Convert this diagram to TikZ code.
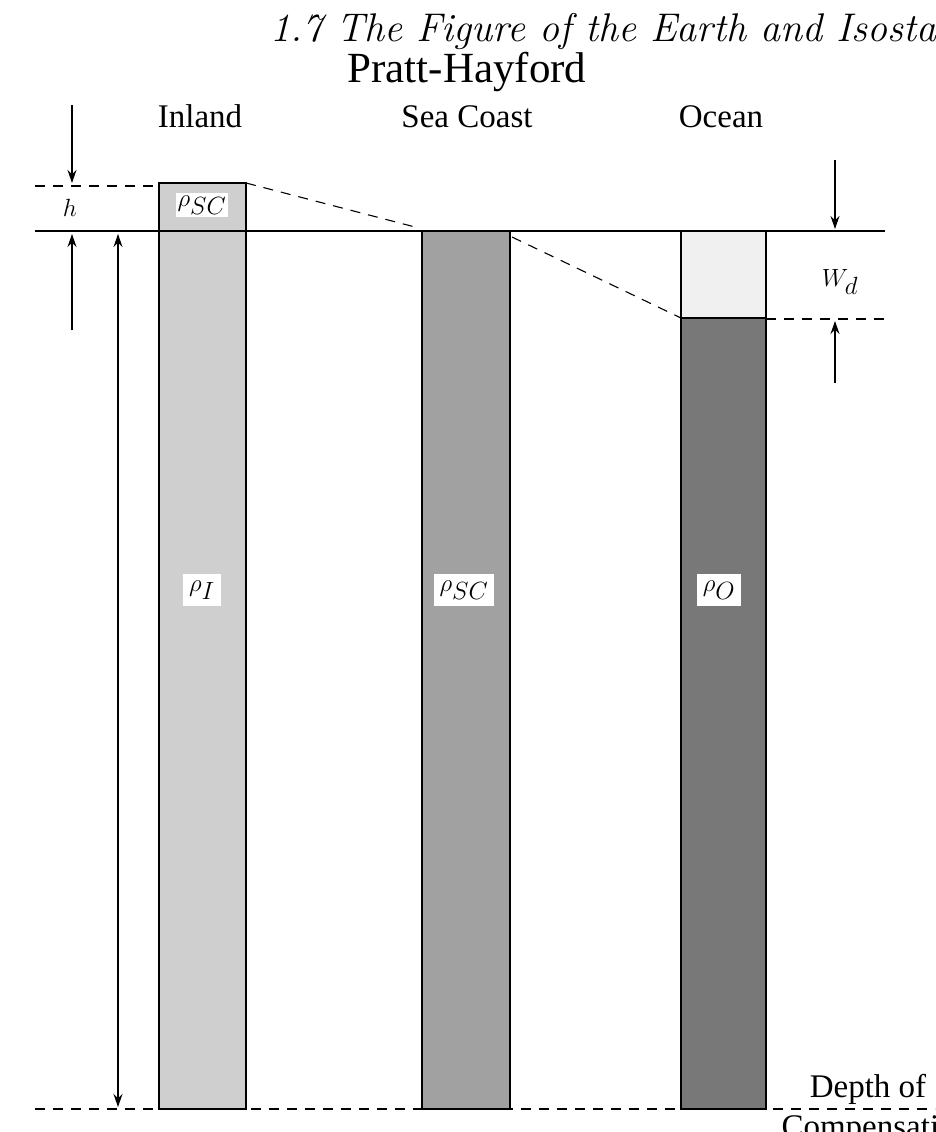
\documentclass[tikz,border=0pt]{standalone}
\usepackage{fontspec}
\setmainfont{Liberation Serif}
\newfontfamily\lmfam{Latin Modern Roman}
\usetikzlibrary{arrows.meta}
\begin{document}
\begin{tikzpicture}[x=1pt,y=-1pt,
  col/.style={draw=black,line width=1.4pt},
  dsh/.style={dash pattern=on 10pt off 8pt,line width=1.1pt},
  tip/.tip={Stealth[length=13pt,width=9pt]},
  arr/.style={-tip,line width=1.1pt},
  lab/.style={font=\fontsize{33}{35}\selectfont},
  rho/.style={fill=white,inner xsep=6pt,inner ysep=6pt,font=\fontsize{40}{42}\selectfont}]
\useasboundingbox (0,0) rectangle (935,1132);
\begin{scope}
\clip (0,0) rectangle (935,1132);
\node[anchor=base east,font=\fontsize{40}{42}\selectfont\lmfam\itshape] (hdr) at (975,42) {1.7 The Figure of the Earth and Isostasy};
\node[anchor=base,font=\fontsize{43}{45}\selectfont] (title) at (467,82) {Pratt-Hayford};
\node[anchor=base,lab] (l1) at (200,127) {Inland};
\node[anchor=base,lab] (l2) at (467,127) {Sea Coast};
\node[anchor=base,lab] (l3) at (721,127) {Ocean};
% columns
\filldraw[col,fill=black!19] (159,183) rectangle (246,1109);
\filldraw[col,fill=black!37] (422,231) rectangle (510,1109);
\filldraw[col,fill=black!6] (681,231) rectangle (766,318);
\filldraw[col,fill=black!53] (681,318) rectangle (766,1109);
\coordinate (a) at (246,183); \coordinate (b) at (415,227);
\coordinate (c) at (512,237); \coordinate (d) at (681,318);
% lines
\draw[line width=1.4pt] (35,231) -- (885,231);
\draw[dsh] (35,186) -- (159,186);
\draw[dsh] (a) -- (b);
\draw[dsh] (c) -- (d);
\draw[dsh] (766,319) -- (885,319);
\draw[dsh] (35,1109) -- (935,1109);
% arrows
\draw[arr] (72,105) -- (72,183);
\draw[arr] (72,330) -- (72,234);
\draw[arr] (835,160) -- (835,229);
\draw[arr] (835,383) -- (835,321);
\draw[tip-tip,line width=1.1pt] (118,234) -- (118,1107);
\node[font=\fontsize{38}{40}\selectfont] (h) at (70,208) {$h$};
\node[font=\fontsize{36}{38}\selectfont] (wd) at (840,282) {$W_d$};
\node[rho,inner sep=2pt] (r1) at (202,205) {$\rho_{SC}$};
\node[rho] (r2) at (202,590) {$\rho_I$};
\node[rho] (r3) at (464,590) {$\rho_{SC}$};
\node[rho] (r4) at (719,590) {$\rho_O$};
\node[fill=white,inner sep=1pt,anchor=base,lab] (dep) at (868,1097) {Depth of};
\node[anchor=base west,lab] (comp) at (778,1137) {Compensation};
\end{scope}
\end{tikzpicture}
\end{document}
